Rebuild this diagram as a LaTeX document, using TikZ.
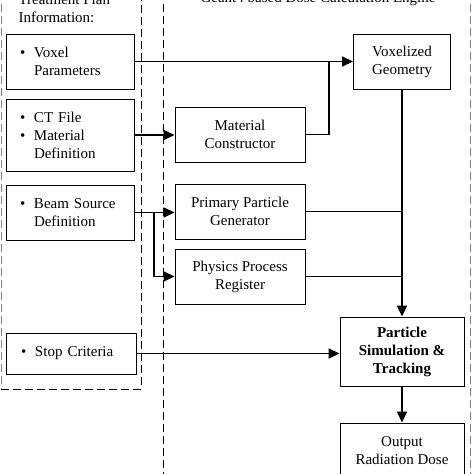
\documentclass[tikz,border=0pt]{standalone}
\usepackage{fontspec}
\setmainfont{Liberation Serif}
\usetikzlibrary{arrows.meta}

\tikzset{
  blk/.style={draw, line width=0.9pt, inner sep=0pt, align=center},
  info/.style={draw, line width=0.9pt, align=left, text width=100pt, inner xsep=14pt, inner ysep=0pt},
  link/.style={line width=1.6pt},
  arr/.style={link, -{Triangle[length=11pt,width=10pt]}},
  frame/.style={line width=0.9pt, dash pattern=on 8pt off 4pt},
}
\newcommand{\bul}{\makebox[14pt][l]{\textbullet}}
\newcommand{\ind}{\hspace*{14pt}}

\begin{document}
\begin{tikzpicture}[x=1pt, y=-1pt, font=\fontsize{15}{18}\selectfont]
		\useasboundingbox (0,0) rectangle (474,474);
		\clip (0,0) rectangle (474,474);
		% dashed frames
		\draw[frame, gray] (1,-20) -- (1,389);
		\draw[frame] (1,389) -- (141,389) -- (141,-20);
		\draw[frame] (163,-20) -- (163,478);
		\draw[frame, gray] (470,-20) -- (470,478);
		\node[align=left, anchor=west] (plantitle) at (15,8) {Treatment Plan\\Information:};
		\node (enginetitle) at (318,-1) {Geant4 based Dose Calculation Engine};
		% treatment plan information
		\node[info, minimum width=128pt, minimum height=55pt] (vp) at (70,61.5) {\bul Voxel\\\ind Parameters};
		\node[info, minimum width=128pt, minimum height=72pt] (ct) at (70,135) {\bul CT File\\\bul Material\\\ind Definition};
		\node[info, minimum width=128pt, minimum height=55pt] (bs) at (70,212.5) {\bul Beam Source\\\ind Definition};
		\node[info, minimum width=130pt, minimum height=41pt] (sc) at (71,353.5) {\bul Stop Criteria};
		% engine
		\node[blk, minimum width=130pt, minimum height=55pt] (mc) at (240,134.5) {Material\\Constructor};
		\node[blk, minimum width=130pt, minimum height=55pt] (pg) at (240,211.5) {Primary Particle\\Generator};
		\node[blk, minimum width=130pt, minimum height=55pt] (pr) at (240,276.5) {Physics Process\\Register};
		\node[blk, minimum width=97pt, minimum height=55pt] (vg) at (402,61.5) {Voxelized\\Geometry};
		\node[blk, minimum width=124pt, minimum height=69pt, font=\fontsize{15}{18}\selectfont\bfseries] (ps) at (402,351.5) {Particle\\Simulation \&\\Tracking};
		\node[blk, minimum width=124pt, minimum height=55pt] (op) at (402,450.5) {Output\\Radiation Dose};
		% connectors
		\coordinate (j1) at (329,61.5);
		\coordinate (j2) at (154,212);
		\draw[arr] (vp.east) -- (vg.west);
		\draw[link] (mc.east) -| (j1);
		\draw[arr] (ct.east) -- (ct.east -| mc.west);
		\draw[arr] (bs.east) -- (bs.east -| pg.west);
		\draw[arr] (j2) |- (pr.west);
		\draw[arr] (vg.south) -- (ps.north);
		\draw[link] (pg.east) -- (pg.east -| vg.south);
		\draw[link] (pr.east) -- (pr.east -| vg.south);
		\draw[arr] (sc.east) -- (sc.east -| ps.west);
		\draw[arr] (ps.south) -- (op.north);
	\end{tikzpicture}
\end{document}
